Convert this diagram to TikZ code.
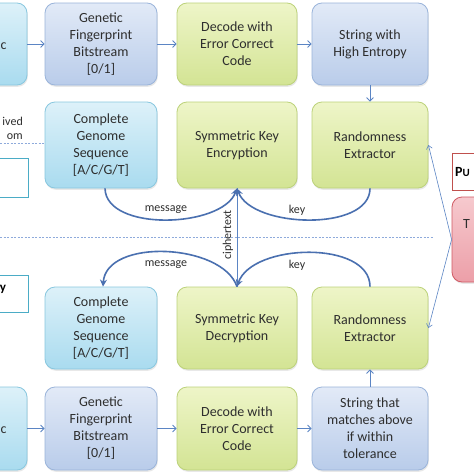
\documentclass[tikz,border=0pt]{standalone}
\usepackage{fontspec}
\setmainfont{Carlito}
\usetikzlibrary{arrows.meta,shadows}
\definecolor{bluetop}{HTML}{E2EAF7}
\definecolor{bluebot}{HTML}{B9CCEA}
\definecolor{blueedge}{HTML}{9AB4DA}
\definecolor{greentop}{HTML}{EEF5C8}
\definecolor{greenbot}{HTML}{D3E494}
\definecolor{greenedge}{HTML}{BCD27A}
\definecolor{cyantop}{HTML}{DDF1F9}
\definecolor{cyanbot}{HTML}{A9DBEF}
\definecolor{cyanedge}{HTML}{88C7DF}
\definecolor{pinktop}{HTML}{F6C9CE}
\definecolor{pinkbot}{HTML}{EC9FA8}
\definecolor{pinkedge}{HTML}{D05A64}
\definecolor{rededge}{HTML}{C0504D}
\definecolor{tealedge}{HTML}{4BACC6}
\definecolor{arrowc}{HTML}{5B85C4}
\definecolor{curvec}{HTML}{4A70B0}
\definecolor{dashc}{HTML}{8EAADB}
\definecolor{txt}{HTML}{2E2E2E}
\newcommand\bxfont{\fontsize{14}{17}\selectfont}
\newcommand\lblfont{\fontsize{12}{14}\selectfont}
\begin{document}
\begin{tikzpicture}[x=1pt,y=-1pt,
  box/.style={rounded corners=10pt, draw, align=center, font=\bxfont, text=txt,
    line width=0.8pt, inner sep=2pt,
    drop shadow={opacity=0.18,shadow xshift=0.8pt,shadow yshift=-1.8pt}},
  bluebox/.style={box, draw=blueedge, top color=bluetop, bottom color=bluebot},
  greenbox/.style={box, draw=greenedge, top color=greentop, bottom color=greenbot},
  cyanbox/.style={box, draw=cyanedge, top color=cyantop, bottom color=cyanbot},
  pinkbox/.style={box, draw=pinkedge, top color=pinktop, bottom color=pinkbot},
  outbox/.style={draw, fill=white, line width=1pt},
  wA/.style={minimum width=112pt},
  wB/.style={minimum width=120pt},
  wC/.style={minimum width=116pt},
  link/.style={draw=arrowc, line width=0.8pt, -{Straight Barb[length=3.5pt,width=7pt]}},
  thin link/.style={draw=arrowc, line width=0.6pt, -{Straight Barb[length=3.5pt,width=6pt]}},
  flow/.style={draw=curvec, line width=1.6pt, -{Stealth[length=7pt,width=7pt]}},
  sep/.style={draw=dashc, line width=0.8pt, dash pattern=on 2pt off 1.5pt},
  lbl/.style={font=\lblfont, text=txt, inner sep=1pt}
]
\clip (0,0) rectangle (474,474);
\fill[white] (0,0) rectangle (474,474);

% separators
\coordinate (dl) at (0,237);
\coordinate (dr) at (433,237);
\coordinate (ol) at (0,143);
\draw[sep] (dl) -- (dr);

% row 1
\node[cyanbox, minimum width=87pt, minimum height=82pt] (gl1) at (-16.5,44) {};
\node[bluebox, wA, minimum height=82pt] (gf1) at (101,44) {Genetic\\Fingerprint\\Bitstream\\{[0/1]}};
\node[greenbox, wB, minimum height=82pt] (dec1) at (237,44) {Decode with\\Error Correct\\Code};
\node[bluebox, wC, minimum height=82pt] (str1) at (370,44) {String with\\High Entropy};

% row 2
\node[cyanbox, wA, minimum height=86pt] (cg1) at (101,145) {Complete\\Genome\\Sequence\\{[A/C/G/T]}};
\node[greenbox, wB, minimum height=86pt] (ske) at (237,145) {Symmetric Key\\Encryption};
\node[greenbox, wC, minimum height=86pt] (re1) at (370,145) {Randomness\\Extractor};
\coordinate (or) at (cg1.west |- ol);
\draw[sep] (ol) -- (or);

% row 3
\node[cyanbox, wA, minimum height=82pt] (cg2) at (101,328) {Complete\\Genome\\Sequence\\{[A/C/G/T]}};
\node[greenbox, wB, minimum height=82pt] (skd) at (237,328) {Symmetric Key\\Decryption};
\node[greenbox, wC, minimum height=82pt] (re2) at (370,328) {Randomness\\Extractor};

% row 4
\node[cyanbox, minimum width=87pt, minimum height=83pt] (gl4) at (-16.5,428.5) {};
\node[bluebox, wA, minimum height=83pt] (gf4) at (101,428.5) {Genetic\\Fingerprint\\Bitstream\\{[0/1]}};
\node[greenbox, wB, minimum height=83pt] (dec4) at (237,428.5) {Decode with\\Error Correct\\Code};
\node[bluebox, wC, minimum height=83pt] (str4) at (370,428.5) {String that\\matches above\\if within\\tolerance};

% left partial items
\node[font=\bxfont, text=txt, inner sep=0pt, anchor=west] (c1) at (0.5,46) {c};
\node[font=\bxfont, text=txt, inner sep=0pt, anchor=west] (c4) at (0.5,430) {c};
\node[lbl, align=right, anchor=east] (der) at (24,128) {ived\\om};
\node[outbox, draw=tealedge, minimum width=68pt, minimum height=39pt] (lb1) at (-6,177.5) {};
\node[outbox, draw=tealedge, minimum width=68pt, minimum height=37pt] (lb2) at (-6,293.5) {};
\node[font=\bfseries\fontsize{13}{15}\selectfont, text=black, inner sep=0pt] (yy) at (3,289) {y};

% right items
\node[outbox, draw=rededge, minimum width=68pt, minimum height=37pt] (pub) at (486,171.5) {};
\node[font=\bfseries\fontsize{14}{16}\selectfont, text=black, anchor=west, inner sep=0pt] (pubt) at (455,172) {P{\fontsize{11}{12}\selectfont U}};
\node[pinkbox, minimum width=78pt, minimum height=85pt] (ttp) at (491,239.5) {};
\node[font=\bxfont, text=txt, anchor=west, inner sep=0pt] (ttpt) at (463,224) {T};

% straight arrows
\draw[link] (gl1.east |- gf1.west) -- (gf1.west);
\draw[link] (gf1) -- (dec1);
\draw[link] (dec1) -- (str1);
\draw[link] (str1) -- (re1);
\draw[link] (gl4.east |- gf4.west) -- (gf4.west);
\draw[link] (gf4) -- (dec4);
\draw[link] (dec4) -- (str4);
\draw[link] (str4) -- (re2);
\draw[thin link] (ttp.west) -- (re1.east);
\draw[thin link] (ttp.west) -- (re2.east);

% ciphertext
\draw[draw=arrowc, line width=0.5pt] (ske.south) -- (skd.north);
\node[lbl, rotate=90] (ct) at (228,235) {ciphertext};

% curves
\draw[flow] ([xshift=4pt]cg1.south) .. controls (106,232) and (222,228) .. (ske.south);
\draw[flow] (re1.south) .. controls (370,232) and (252,228) .. (ske.south);
\draw[flow] (skd.north) .. controls (222,243) and (106,238) .. ([xshift=2pt]cg2.north);
\draw[flow] (re2.north) .. controls (370,240) and (252,243) .. (skd.north);

\node[lbl] (m1) at (166,210) {message};
\node[lbl] (k1) at (297,210) {key};
\node[lbl] (m2) at (166,265) {message};
\node[lbl] (k2) at (297,265) {key};
\end{tikzpicture}
\end{document}
